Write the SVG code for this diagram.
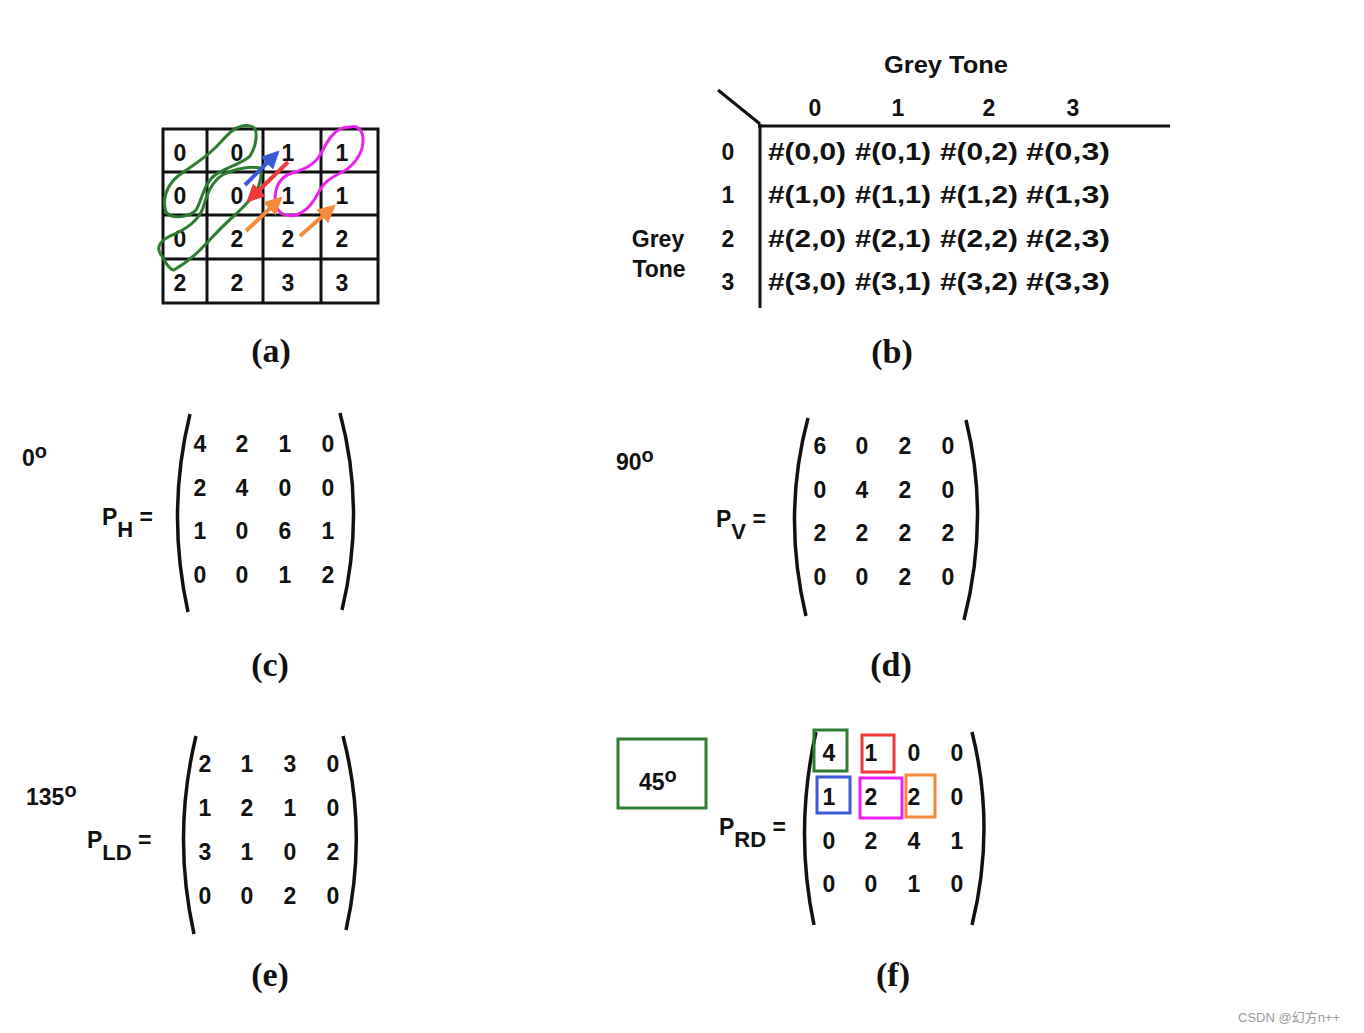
<svg xmlns="http://www.w3.org/2000/svg" width="1364" height="1033" viewBox="0 0 1364 1033">
<style>
.n{font-family:"Liberation Sans","DejaVu Sans",sans-serif;font-weight:bold;font-size:23px;fill:#111;text-anchor:middle}
.t{font-family:"Liberation Sans","DejaVu Sans",sans-serif;font-weight:bold;font-size:23px;fill:#111}
.cap{font-family:"Liberation Serif","DejaVu Serif",serif;font-weight:bold;font-size:34px;fill:#111;text-anchor:middle}
.ln{stroke:#111;stroke-width:3;fill:none}
.par{stroke:#111;stroke-width:3.5;fill:none}
.g{stroke:#2e7d32;stroke-width:3;fill:none}
.box{stroke-width:3;fill:none}
</style>
<defs>
<marker id="ah-blue" viewBox="0 0 10 10" refX="8" refY="5" markerWidth="4.5" markerHeight="4.5" orient="auto"><path d="M0,0 L10,5 L0,10 z" fill="#3b5bd6"/></marker>
<marker id="ah-red" viewBox="0 0 10 10" refX="8" refY="5" markerWidth="4.5" markerHeight="4.5" orient="auto"><path d="M0,0 L10,5 L0,10 z" fill="#f03a3a"/></marker>
<marker id="ah-orange" viewBox="0 0 10 10" refX="8" refY="5" markerWidth="4.5" markerHeight="4.5" orient="auto"><path d="M0,0 L10,5 L0,10 z" fill="#f58a3a"/></marker>
</defs>
<rect width="1364" height="1033" fill="#fff"/>

<!-- (a) image grid -->
<g id="grid-a">
<rect x="163" y="129" width="215" height="174" class="ln"/>
<line x1="207" y1="129" x2="207" y2="303" class="ln"/>
<line x1="263" y1="129" x2="263" y2="303" class="ln"/>
<line x1="321" y1="129" x2="321" y2="303" class="ln"/>
<line x1="163" y1="172" x2="378" y2="172" class="ln"/>
<line x1="163" y1="215" x2="378" y2="215" class="ln"/>
<line x1="163" y1="259" x2="378" y2="259" class="ln"/>
<text class="n" x="180" y="161">0</text><text class="n" x="237" y="161">0</text><text class="n" x="288" y="161">1</text><text class="n" x="342" y="161">1</text>
<text class="n" x="180" y="204">0</text><text class="n" x="237" y="204">0</text><text class="n" x="288" y="204">1</text><text class="n" x="342" y="204">1</text>
<text class="n" x="180" y="247">0</text><text class="n" x="237" y="247">2</text><text class="n" x="288" y="247">2</text><text class="n" x="342" y="247">2</text>
<text class="n" x="180" y="291">2</text><text class="n" x="237" y="291">2</text><text class="n" x="288" y="291">3</text><text class="n" x="342" y="291">3</text>
</g>
<g id="loops-a">
<path class="g" d="M253,127 C258,130 257,145 250,156 C244,163 228,166 215,175 C204,183 202,200 196,210 C190,217 172,220 166,212 C162,200 166,186 178,176 C192,166 205,158 215,148 C225,138 232,128 242,126 C247,125 251,126 253,127 Z"/>
<path class="g" d="M260,168 C250,166 238,168 224,174 C210,182 206,198 203,208 C198,222 185,230 170,236 C160,241 155,248 162,256 C166,264 170,270 174,270 C184,264 192,258 200,250 C210,240 220,228 236,214 C248,203 256,194 259,185 C261,178 262,171 260,168 Z"/>
<path d="M350,127 C356,125 362,128 363,138 C364,150 357,162 346,170 C335,176 325,180 320,190 C314,200 310,210 296,215 C284,218 276,212 275,200 C275,186 280,177 292,173 C305,169 314,165 320,155 C326,145 330,134 340,129 C344,127 347,127 350,127 Z" fill="none" stroke="#ee22ee" stroke-width="3"/>
</g>
<g id="connectors">
<line x1="245" y1="185" x2="277" y2="153" stroke="#3b5bd6" stroke-width="4" marker-end="url(#ah-blue)"/>
<line x1="288" y1="162" x2="249" y2="200" stroke="#f03a3a" stroke-width="4" marker-end="url(#ah-red)"/>
<line x1="246" y1="231" x2="280" y2="199" stroke="#f58a3a" stroke-width="4" marker-end="url(#ah-orange)"/>
<line x1="300" y1="236" x2="333" y2="207" stroke="#f58a3a" stroke-width="4" marker-end="url(#ah-orange)"/>
</g>
<text class="cap" x="271" y="362">(a)</text>

<!-- (b) table -->
<g id="table-b">
<text class="t" x="946" y="73" text-anchor="middle" textLength="124" lengthAdjust="spacingAndGlyphs">Grey Tone</text>
<line x1="718" y1="90" x2="760" y2="124" class="ln"/>
<line x1="758" y1="126" x2="1170" y2="126" class="ln"/>
<line x1="760" y1="124" x2="760" y2="308" class="ln"/>
<text class="n" x="815" y="116">0</text><text class="n" x="898" y="116">1</text><text class="n" x="989" y="116">2</text><text class="n" x="1073" y="116">3</text>
<text class="n" x="728" y="160">0</text><text class="n" x="728" y="203">1</text><text class="n" x="728" y="247">2</text><text class="n" x="728" y="290">3</text>
<text class="t" x="658" y="247" text-anchor="middle">Grey</text>
<text class="t" x="659" y="277" text-anchor="middle">Tone</text>
<g class="t">
<text x="768" y="160" textLength="78" lengthAdjust="spacingAndGlyphs">#(0,0)</text><text x="855" y="160" textLength="76" lengthAdjust="spacingAndGlyphs">#(0,1)</text><text x="940" y="160" textLength="78" lengthAdjust="spacingAndGlyphs">#(0,2)</text><text x="1026" y="160" textLength="84" lengthAdjust="spacingAndGlyphs">#(0,3)</text>
<text x="768" y="203" textLength="78" lengthAdjust="spacingAndGlyphs">#(1,0)</text><text x="855" y="203" textLength="76" lengthAdjust="spacingAndGlyphs">#(1,1)</text><text x="940" y="203" textLength="78" lengthAdjust="spacingAndGlyphs">#(1,2)</text><text x="1026" y="203" textLength="84" lengthAdjust="spacingAndGlyphs">#(1,3)</text>
<text x="768" y="247" textLength="78" lengthAdjust="spacingAndGlyphs">#(2,0)</text><text x="855" y="247" textLength="76" lengthAdjust="spacingAndGlyphs">#(2,1)</text><text x="940" y="247" textLength="78" lengthAdjust="spacingAndGlyphs">#(2,2)</text><text x="1026" y="247" textLength="84" lengthAdjust="spacingAndGlyphs">#(2,3)</text>
<text x="768" y="290" textLength="78" lengthAdjust="spacingAndGlyphs">#(3,0)</text><text x="855" y="290" textLength="76" lengthAdjust="spacingAndGlyphs">#(3,1)</text><text x="940" y="290" textLength="78" lengthAdjust="spacingAndGlyphs">#(3,2)</text><text x="1026" y="290" textLength="84" lengthAdjust="spacingAndGlyphs">#(3,3)</text>
</g>
</g>
<text class="cap" x="892" y="363">(b)</text>

<!-- (c) P_H -->
<g id="matrix-c">
<text class="t" x="22" y="466">0<tspan font-size="20" dy="-8">o</tspan></text>
<text class="t" x="102" y="525">P<tspan font-size="22" dy="12">H</tspan><tspan dy="-12"> =</tspan></text>
<path class="par" d="M190,414 Q166,512 188,612"/>
<path class="par" d="M340,413 Q366,510 342,610"/>
<text class="n" x="200" y="452">4</text><text class="n" x="242" y="452">2</text><text class="n" x="285" y="452">1</text><text class="n" x="328" y="452">0</text>
<text class="n" x="200" y="496">2</text><text class="n" x="242" y="496">4</text><text class="n" x="285" y="496">0</text><text class="n" x="328" y="496">0</text>
<text class="n" x="200" y="539">1</text><text class="n" x="242" y="539">0</text><text class="n" x="285" y="539">6</text><text class="n" x="328" y="539">1</text>
<text class="n" x="200" y="583">0</text><text class="n" x="242" y="583">0</text><text class="n" x="285" y="583">1</text><text class="n" x="328" y="583">2</text>
</g>
<text class="cap" x="270" y="676">(c)</text>

<!-- (d) P_V -->
<g id="matrix-d">
<text class="t" x="616" y="470">90<tspan font-size="20" dy="-8">o</tspan></text>
<text class="t" x="716" y="527">P<tspan font-size="22" dy="12">V</tspan><tspan dy="-12"> =</tspan></text>
<path class="par" d="M808,418 Q782,515 806,616"/>
<path class="par" d="M966,420 Q990,518 964,620"/>
<text class="n" x="820" y="454">6</text><text class="n" x="862" y="454">0</text><text class="n" x="905" y="454">2</text><text class="n" x="948" y="454">0</text>
<text class="n" x="820" y="498">0</text><text class="n" x="862" y="498">4</text><text class="n" x="905" y="498">2</text><text class="n" x="948" y="498">0</text>
<text class="n" x="820" y="541">2</text><text class="n" x="862" y="541">2</text><text class="n" x="905" y="541">2</text><text class="n" x="948" y="541">2</text>
<text class="n" x="820" y="585">0</text><text class="n" x="862" y="585">0</text><text class="n" x="905" y="585">2</text><text class="n" x="948" y="585">0</text>
</g>
<text class="cap" x="891" y="676">(d)</text>

<!-- (e) P_LD -->
<g id="matrix-e">
<text class="t" x="26" y="805">135<tspan font-size="20" dy="-8">o</tspan></text>
<text class="t" x="87" y="848">P<tspan font-size="22" dy="12">LD</tspan><tspan dy="-12"> =</tspan></text>
<path class="par" d="M196,736 Q172,835 194,934"/>
<path class="par" d="M343,736 Q368,832 346,930"/>
<text class="n" x="205" y="772">2</text><text class="n" x="247" y="772">1</text><text class="n" x="290" y="772">3</text><text class="n" x="333" y="772">0</text>
<text class="n" x="205" y="816">1</text><text class="n" x="247" y="816">2</text><text class="n" x="290" y="816">1</text><text class="n" x="333" y="816">0</text>
<text class="n" x="205" y="860">3</text><text class="n" x="247" y="860">1</text><text class="n" x="290" y="860">0</text><text class="n" x="333" y="860">2</text>
<text class="n" x="205" y="904">0</text><text class="n" x="247" y="904">0</text><text class="n" x="290" y="904">2</text><text class="n" x="333" y="904">0</text>
</g>
<text class="cap" x="270" y="986">(e)</text>

<!-- (f) P_RD -->
<g id="matrix-f">
<rect x="618" y="739" width="88" height="69" class="box" stroke="#2e7d32"/>
<text class="t" x="639" y="790">45<tspan font-size="20" dy="-8">o</tspan></text>
<text class="t" x="719" y="835">P<tspan font-size="22" dy="12">RD</tspan><tspan dy="-12"> =</tspan></text>
<path class="par" d="M816,732 Q794,830 814,925"/>
<path class="par" d="M972,732 Q996,828 972,925"/>
<rect x="814" y="730" width="33" height="41" class="box" stroke="#2e7d32"/>
<rect x="862" y="735" width="32" height="37" class="box" stroke="#f03a3a"/>
<rect x="817" y="777" width="33" height="36" class="box" stroke="#3b5bd6"/>
<rect x="860" y="778" width="42" height="40" class="box" stroke="#ee22ee"/>
<rect x="906" y="775" width="29" height="42" class="box" stroke="#f58a3a"/>
<text class="n" x="829" y="761">4</text><text class="n" x="871" y="761">1</text><text class="n" x="914" y="761">0</text><text class="n" x="957" y="761">0</text>
<text class="n" x="829" y="805">1</text><text class="n" x="871" y="805">2</text><text class="n" x="914" y="805">2</text><text class="n" x="957" y="805">0</text>
<text class="n" x="829" y="849">0</text><text class="n" x="871" y="849">2</text><text class="n" x="914" y="849">4</text><text class="n" x="957" y="849">1</text>
<text class="n" x="829" y="892">0</text><text class="n" x="871" y="892">0</text><text class="n" x="914" y="892">1</text><text class="n" x="957" y="892">0</text>
</g>
<text class="cap" x="893" y="986">(f)</text>

<text x="1238" y="1022" font-family="'Liberation Sans','Noto Sans CJK SC',sans-serif" font-size="13" fill="#9a9a9a">CSDN @幻方n++</text>
</svg>
